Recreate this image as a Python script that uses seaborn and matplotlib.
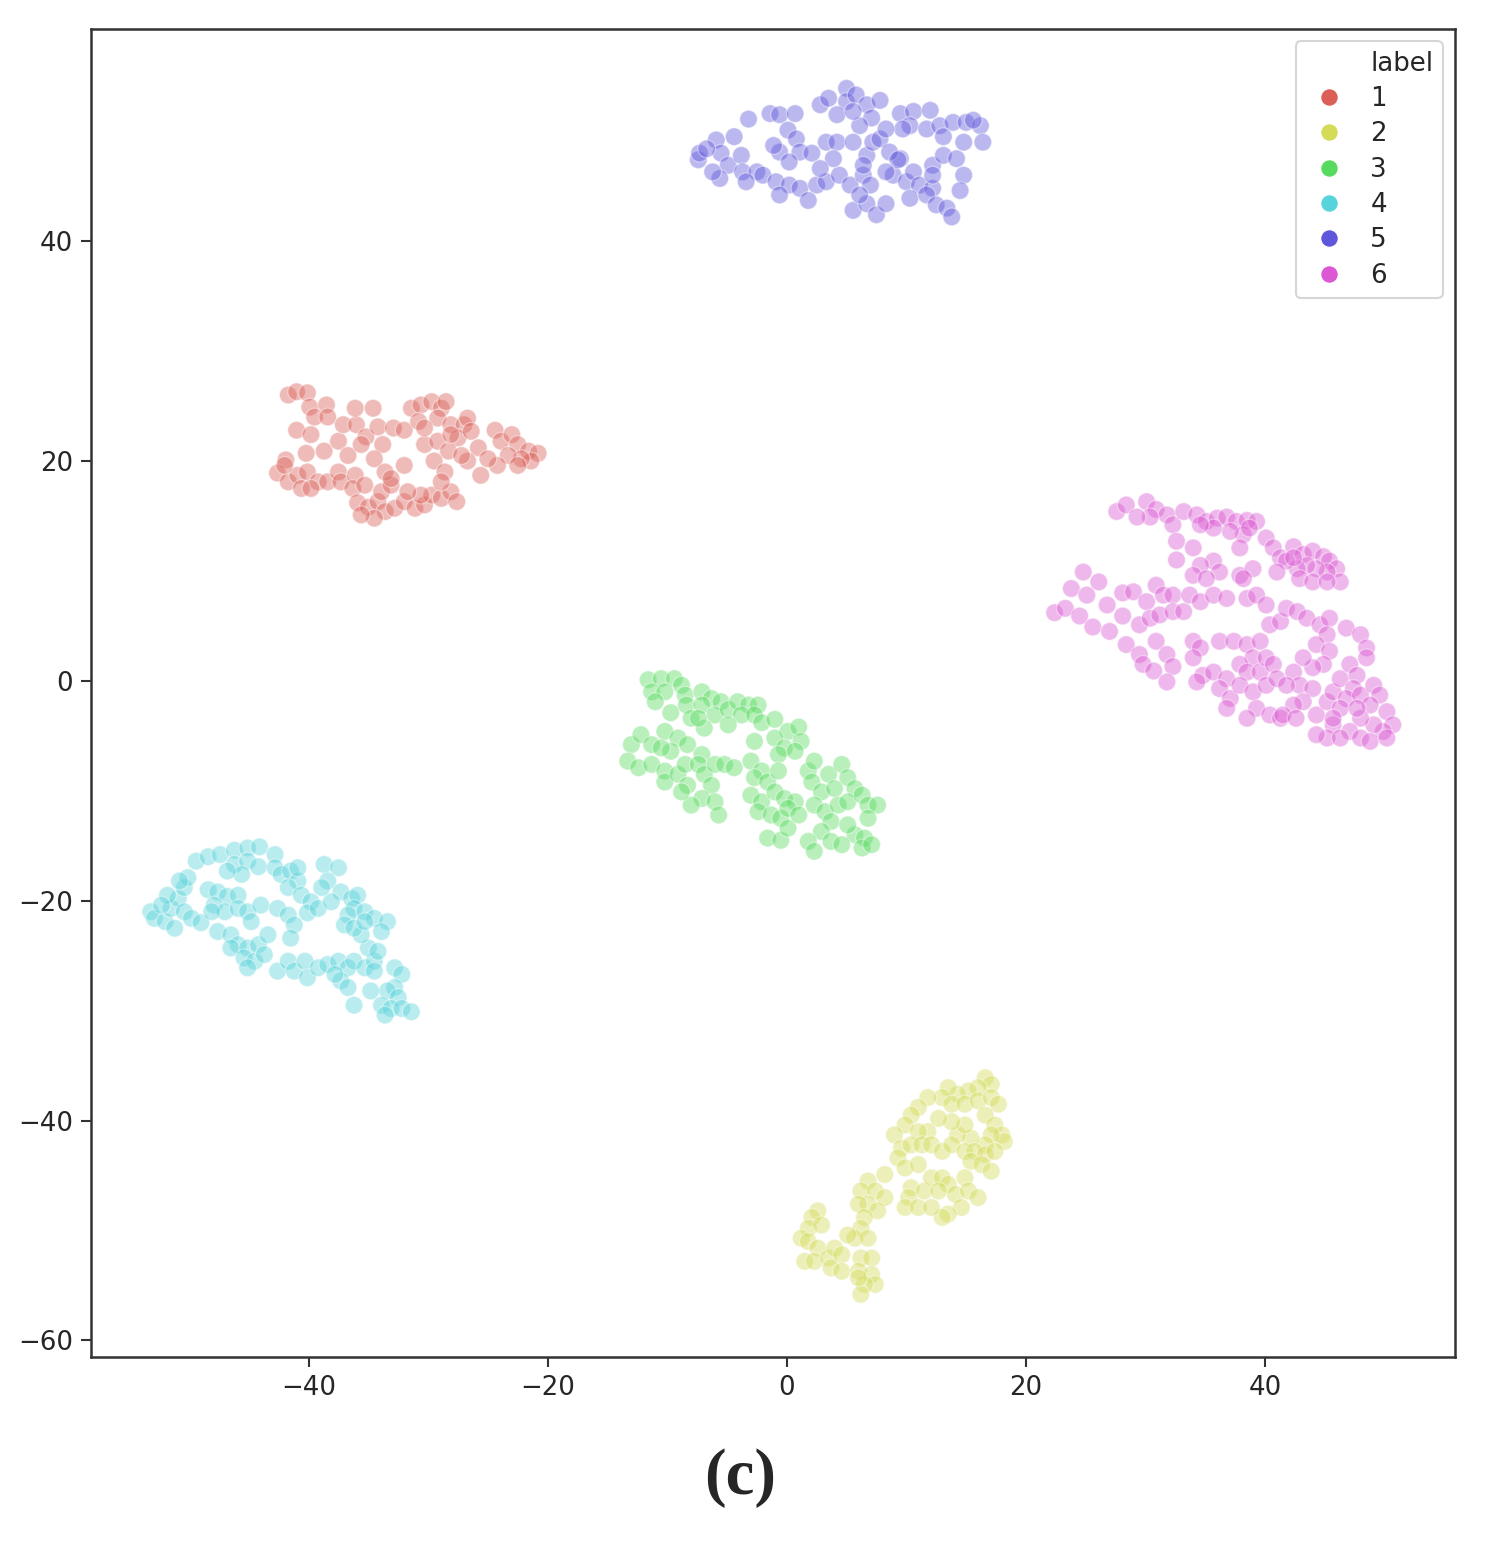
import pandas as pd
import matplotlib
matplotlib.use("Agg")
import matplotlib.pyplot as plt
from matplotlib.lines import Line2D
import seaborn as sns

# t-SNE embedding, values (one list pair per label)
x1 = [-41.7, -41.0, -40.1, -39.9, -38.5, -39.5, -38.4, -41.0, -39.8, -40.2, -38.7, -41.9, -37.5, -37.1,
      -36.0, -36.1, -34.6, -35.2, -34.2, -33.8, -36.7, -35.6, -34.5, -42.6, -41.7, -40.9, -40.1, -39.2,
      -40.6, -39.8, -38.4, -42.0, -37.5, -37.3, -36.1, -36.3, -35.3, -35.9, -35.0, -34.2, -33.6, -32.8,
      -32.0, -31.1, -30.3, -29.7, -28.9, -28.1, -27.6, -34.5, -35.6, -30.6, -31.7, -33.9, -33.1, -32.0,
      -33.6, -33.1, -32.9, -32.0, -31.4, -30.6, -29.7, -28.9, -28.5, -29.2, -28.1, -27.0, -26.7, -27.5,
      -30.3, -29.2, -30.8, -28.3, -29.5, -28.6, -28.9, -28.1, -26.4, -25.8, -26.7, -25.6, -24.4, -23.9,
      -23.0, -22.5, -21.6, -20.8, -21.4, -22.2, -23.3, -24.2, -25.0, -22.5, -27.2, -30.3]
y1 = [26.0, 26.3, 26.2, 24.9, 25.1, 24.0, 24.0, 22.8, 22.4, 20.7, 20.9, 20.1, 21.8, 23.3,
      23.3, 24.8, 24.8, 22.2, 23.1, 21.5, 20.5, 21.5, 20.2, 18.9, 18.1, 18.7, 19.0, 18.1,
      17.5, 17.5, 18.1, 19.6, 19.0, 18.1, 18.7, 17.5, 17.8, 16.2, 15.8, 16.3, 15.4, 15.7,
      16.3, 15.7, 16.0, 16.9, 16.6, 17.2, 16.3, 14.8, 15.1, 16.9, 17.2, 17.2, 17.8, 19.6,
      19.0, 18.4, 23.0, 22.8, 24.8, 25.1, 25.4, 24.8, 25.4, 23.9, 23.3, 23.3, 23.9, 22.1,
      21.5, 21.8, 23.6, 20.9, 20.0, 19.0, 18.1, 22.4, 22.7, 21.2, 20.0, 18.7, 22.8, 21.8,
      22.4, 21.5, 20.9, 20.7, 20.0, 20.2, 20.5, 19.6, 20.2, 19.6, 20.5, 23.0]

x2 = [16.6, 17.1, 16.0, 15.2, 14.3, 13.5, 13.0, 11.8, 13.8, 14.9, 16.0, 17.1, 17.7, 16.6, 17.4, 18.0,
      18.2, 17.1, 16.6, 15.4, 14.3, 14.9, 13.8, 12.7, 11.8, 11.0, 10.4, 9.9, 11.0, 9.0, 9.6, 10.4,
      11.3, 12.1, 13.0, 13.8, 14.9, 15.7, 16.6, 17.4, 15.4, 16.3, 17.1, 9.3, 9.9, 11.0, 10.4, 10.2,
      9.9, 11.0, 11.5, 12.1, 13.0, 13.5, 12.7, 14.1, 14.9, 15.2, 16.0, 14.6, 13.5, 13.0, 12.1, 8.2,
      6.8, 6.2, 7.4, 8.2, 6.8, 6.0, 7.6, 6.5, 6.2, 5.7, 6.8, 5.1, 2.6, 2.1, 1.8, 2.9, 1.2, 1.8,
      2.6, 1.5, 2.3, 3.5, 4.0, 4.6, 3.7, 4.6, 6.2, 7.1, 6.0, 7.1, 7.4, 6.5, 6.2, 6.0]
y2 = [-36.1, -36.7, -37.0, -37.3, -37.6, -37.0, -37.9, -37.9, -38.5, -38.5, -38.2, -37.9, -38.5, -39.5,
      -40.4, -41.3, -41.9, -41.3, -42.2, -41.6, -41.3, -40.4, -40.1, -39.8, -41.0, -38.8, -39.5, -40.4,
      -41.0, -41.3, -42.5, -42.2, -42.2, -42.2, -42.8, -42.2, -42.8, -42.8, -43.1, -42.8, -43.7, -44.0,
      -44.6, -43.4, -44.3, -44.0, -46.1, -47.0, -47.9, -47.9, -46.4, -45.2, -45.2, -45.8, -46.4, -46.7,
      -45.2, -46.4, -47.0, -47.9, -48.5, -48.8, -47.9, -44.9, -45.5, -46.4, -46.4, -47.0, -47.6, -47.6,
      -48.2, -48.8, -49.8, -50.7, -50.7, -50.4, -48.2, -48.8, -49.8, -49.5, -50.7, -51.0, -51.6, -52.8,
      -52.8, -52.5, -51.6, -52.2, -53.4, -53.7, -52.5, -52.5, -53.7, -54.0, -54.9, -54.9, -55.8, -54.3]

x3 = [-11.6, -10.5, -9.4, -8.8, -11.3, -10.2, -8.5, -11.0, -9.7, -8.4, -8.0, -7.1, -6.3, -5.5, -7.1,
      -6.0, -4.9, -4.1, -3.2, -2.4, -3.8, -2.7, -2.1, -1.0, -4.9, -6.9, -7.4, 0.1, 1.0, 1.2, -1.0, -2.7,
      -0.2, -0.7, 0.7, -13.0, -12.2, -11.3, -10.2, -9.1, -8.3, -9.7, -10.5, -7.1, -13.3, -12.4, -11.3,
      -10.2, -10.2, -9.1, -8.5, -7.4, -8.3, -6.9, -6.0, -5.2, -4.4, -6.3, -7.1, -6.0, -5.7, -8.0, -8.8,
      -3.0, -2.1, -2.7, -1.6, -0.7, -3.0, -2.1, -1.0, -0.2, 0.7, -2.4, -1.3, -0.5, 0.1, -1.6, -0.5, 0.1,
      1.0, 1.8, 2.3, 2.1, 2.9, 3.5, 4.6, 5.1, 5.7, 4.0, 2.3, 3.2, 4.3, 5.1, 6.3, 6.8, 7.6, 6.8, 3.7,
      2.9, 1.8, 2.3, 3.7, 5.7, 6.5, 6.3, 7.1, 4.6, 5.1]
y3 = [0.1, 0.2, 0.2, -0.4, -1.0, -1.0, -1.3, -1.9, -2.9, -2.2, -3.4, -1.0, -1.6, -1.9, -2.2,
      -3.1, -2.6, -1.9, -2.2, -2.2, -3.1, -3.1, -3.8, -3.5, -4.0, -4.3, -3.4, -4.6, -4.2, -5.5, -5.2, -5.5,
      -6.1, -6.7, -6.4, -5.8, -4.9, -5.8, -4.6, -5.2, -5.8, -6.4, -6.1, -6.7, -7.3, -7.9, -7.6,
      -8.2, -9.2, -8.5, -7.6, -7.6, -9.5, -8.5, -7.6, -7.6, -7.9, -9.5, -10.7, -11.0, -12.2, -11.3, -10.1,
      -7.3, -8.2, -8.8, -9.2, -8.2, -10.4, -11.0, -10.1, -10.7, -11.0, -11.9, -12.2, -12.5, -11.6, -14.3,
      -14.5, -13.4, -12.2, -8.2, -7.3, -9.2, -10.1, -8.5, -7.6, -8.8, -9.8, -9.8, -11.3, -11.9, -11.3,
      -11.0, -10.4, -11.3, -11.3, -12.5, -12.8, -13.7, -14.6, -15.5, -14.6, -14.0, -14.3, -15.2, -14.9,
      -14.9, -13.1]

x4 = [-53.2, -52.9, -52.0, -51.2, -51.5, -50.9, -50.4, -51.8, -52.3, -50.4, -49.8, -49.0, -50.1, -50.8,
      -49.4, -48.4, -47.4, -46.2, -45.1, -44.1, -46.2, -45.1, -45.6, -44.2, -46.8, -48.4, -47.6, -46.8,
      -45.9, -47.9, -47.0, -45.9, -45.1, -48.1, -44.8, -47.6, -46.5, -45.9, -46.5, -45.1, -44.2, -45.4,
      -44.5, -43.7, -44.0, -43.4, -45.1, -42.8, -42.8, -42.3, -41.5, -40.9, -41.7, -40.6, -39.8, -40.1,
      -39.2, -38.7, -37.5, -38.4, -37.3, -36.4, -35.9, -36.2, -36.7, -35.3, -38.1, -38.9, -40.9, -42.6,
      -41.7, -41.2, -41.5, -42.6, -41.7, -41.2, -40.3, -40.1, -39.2, -38.4, -37.5, -36.7, -37.3, -36.7,
      -36.2, -35.3, -34.5, -35.0, -34.2, -35.6, -34.5, -37.8, -37.0, -36.2, -34.5, -33.4, -33.9, -35.3,
      -32.8, -32.2, -32.8, -33.4, -32.5, -33.9, -33.1, -32.2, -31.4, -33.6, -36.2, -34.8]
y4 = [-21.0, -21.6, -21.9, -22.5, -20.7, -19.8, -18.8, -19.5, -20.4, -21.0, -21.6, -22.0, -17.9, -18.2,
      -16.4, -16.0, -15.8, -15.4, -15.2, -15.1, -16.7, -16.4, -17.6, -16.9, -17.3, -19.0, -19.2, -19.6,
      -19.5, -20.4, -21.0, -20.7, -21.0, -21.0, -21.9, -22.8, -23.1, -24.0, -24.3, -24.3, -24.0, -25.2,
      -25.5, -24.9, -20.4, -23.1, -26.1, -15.8, -17.0, -17.6, -17.3, -18.2, -18.8, -19.5, -20.1, -21.1,
      -20.7, -16.7, -17.0, -18.2, -19.2, -19.8, -19.5, -20.7, -21.3, -21.0, -20.1, -18.8, -17.0, -20.7,
      -21.3, -22.2, -23.4, -26.4, -25.5, -26.4, -25.5, -27.0, -26.1, -25.8, -25.5, -26.1, -27.3, -27.9,
      -25.5, -26.1, -25.5, -24.3, -24.6, -23.1, -26.4, -26.7, -22.2, -22.5, -21.6, -21.9, -22.8, -21.9,
      -26.1, -26.7, -27.9, -28.2, -28.8, -29.5, -29.8, -29.8, -30.1, -30.4, -29.5, -28.2]

x5 = [-7.4, -7.3, -5.9, -5.5, -4.9, -5.6, -4.4, -3.8, -3.7, -3.2, -2.5, -3.4, -6.2, -6.7,
      -1.4, -0.6, 0.7, 0.1, 0.8, -0.6, 1.1, 2.1, -1.1, 0.2, 2.8, 3.5, 5.0, 5.0, 5.8, 6.7, 7.8, 7.1,
      6.1, 4.2, 5.55, -2.0, -0.9, 0.2, 1.1, 2.5, 3.3, 4.4, 5.3, 6.4, 7.0, -0.6, 1.8, 3.3, 4.2, 3.9,
      5.55, 6.7, 7.2, 7.8, 6.4, 2.8, 5.55, 6.7, 7.5, 8.3, 6.1, 9.5, 10.6, 12.0, 10.3, 11.7, 12.8,
      13.9, 15.0, 16.2, 14.8, 13.1, 16.4, 15.6, 9.7, 9.5, 8.9, 10.0, 10.6, 12.2, 13.1, 14.2, 14.8,
      11.1, 12.2, 14.5, 12.2, 10.3, 11.7, 12.5, 13.4, 13.8, 8.6, 9.3, 8.3, 8.3]
y5 = [47.4, 48.0, 49.2, 48.0, 46.9, 45.7, 49.5, 47.8, 46.3, 51.1, 46.3, 45.4, 46.3, 48.4,
      51.6, 51.5, 51.6, 50.1, 49.3, 48.1, 48.1, 48.0, 48.7, 47.2, 52.4, 53.0, 53.9, 52.7, 53.3, 52.4,
      52.8, 51.2, 50.5, 51.5, 51.8, 46.0, 45.4, 45.1, 44.8, 45.1, 45.4, 46.0, 45.1, 46.0, 45.1, 44.2,
      43.7, 49.0, 49.0, 47.5, 49.0, 47.8, 49.0, 49.3, 46.9, 46.6, 42.8, 43.4, 42.4, 43.4, 44.2, 51.6,
      51.8, 51.9, 50.5, 50.2, 50.5, 50.8, 50.8, 50.5, 49.0, 49.5, 49.0, 51.0, 50.2, 47.5, 46.0, 45.4,
      46.3, 46.9, 47.8, 47.5, 46.0, 45.1, 44.8, 44.6, 46.0, 43.9, 44.2, 43.3, 43.0, 42.2, 48.1, 47.4,
      50.2, 46.3]

x6 = [27.6, 28.4, 30.1, 30.9, 31.8, 32.3, 30.4, 29.3, 33.2, 34.3, 35.1, 36.0, 36.8, 37.6, 38.5, 39.3,
      38.2, 37.1, 35.7, 34.6, 38.7, 40.1, 40.7, 41.3, 42.4, 43.2, 44.0, 44.9, 45.4, 46.0, 46.3, 45.2,
      44.3, 43.5, 42.7, 41.8, 41.0, 42.9, 44.0, 45.2, 42.4, 32.6, 34.0, 32.6, 35.7, 36.2, 34.6, 34.0,
      35.1, 37.9, 39.0, 38.2, 37.9, 22.4, 23.3, 24.5, 23.8, 24.8, 26.1, 25.1, 26.8, 28.1, 29.0, 25.6,
      27.0, 28.1, 28.4, 29.5, 30.1, 30.9, 31.5, 32.3, 30.4, 31.2, 32.3, 33.2, 29.5, 29.8, 30.9, 31.8,
      32.3, 30.7, 31.8, 33.7, 34.6, 35.7, 36.8, 38.5, 39.3, 40.1, 34.0, 34.6, 34.0, 34.8, 34.3, 35.7,
      36.2, 37.4, 38.5, 39.6, 40.4, 41.3, 39.0, 37.9, 38.5, 39.6, 40.1, 40.7, 36.8, 36.2, 37.1, 36.8,
      37.9, 39.0, 40.1, 41.0, 39.3, 38.5, 40.4, 41.3, 41.8, 42.7, 43.5, 44.6, 45.4, 45.2, 44.3, 45.4,
      44.9, 44.0, 43.2, 42.4, 42.9, 41.8, 44.0, 43.2, 42.4, 41.5, 42.6, 44.3, 45.2, 45.7, 46.3, 47.1,
      46.8, 48.0, 48.5, 48.5, 47.7, 47.4, 46.8, 46.3, 48.0, 49.1, 49.6, 48.8, 50.2, 50.7, 49.9, 49.1,
      48.0, 47.1, 45.7, 45.2, 44.3, 46.3, 48.0, 48.8, 50.2, 47.7, 45.7]
y6 = [15.4, 16.0, 16.3, 15.6, 15.1, 14.2, 14.9, 14.9, 15.4, 15.1, 14.5, 14.8, 14.9, 14.5, 14.6, 14.5,
      13.3, 13.6, 13.9, 14.2, 13.9, 13.0, 12.1, 11.2, 12.2, 11.5, 11.8, 11.3, 10.9, 10.2, 9.0, 9.9,
      10.2, 10.5, 10.2, 10.9, 9.9, 9.3, 9.0, 9.0, 11.2, 12.7, 12.1, 11.0, 10.9, 9.9, 10.5, 9.6,
      9.3, 9.6, 10.2, 9.3, 12.1, 6.2, 6.6, 5.9, 8.4, 9.9, 9.0, 7.8, 6.9, 8.0, 8.1, 4.9,
      4.5, 5.9, 3.3, 5.1, 7.2, 8.7, 7.8, 7.8, 5.7, 6.0, 6.3, 6.3, 2.4, 1.5, 3.6, 2.4,
      1.3, 0.9, -0.1, 7.8, 7.2, 7.8, 7.5, 7.5, 7.8, 6.9, 3.6, 3.0, 2.1, 0.5, -0.1, 0.8,
      3.6, 3.6, 3.3, 3.6, 5.1, 5.4, 2.1, 1.5, 0.8, 0.8, 2.1, 1.5, 0.2, -0.7, -1.6, -2.5,
      -0.4, -1.0, -0.4, 0.2, -2.5, -3.4, -3.1, -3.4, 6.6, 6.3, 5.7, 5.1, 5.7, 4.2, 3.3, 2.7,
      1.5, 1.2, 2.1, 0.8, -0.4, -0.4, -0.7, -1.9, -2.2, -3.1, -3.4, -3.1, -1.9, -1.0, 0.2, 1.5,
      4.8, 4.2, 3.0, 2.1, 0.5, -0.7, -1.6, -2.5, -1.3, -0.4, -1.3, -2.2, -2.8, -4.0, -4.6, -4.0,
      -3.4, -4.6, -4.0, -5.2, -4.9, -5.2, -5.2, -5.5, -5.2, -2.5, -3.4]

xs = [x1, x2, x3, x4, x5, x6]
ys = [y1, y2, y3, y4, y5, y6]
labels = [1, 2, 3, 4, 5, 6]

df = pd.concat([pd.DataFrame({"x": x, "y": y, "label": lab})
                for x, y, lab in zip(xs, ys, labels)], ignore_index=True)

sns.set_style("ticks")
plt.rcParams["font.family"] = ["DejaVu Sans"]

fig = plt.figure(figsize=(1487 / 150, 1548 / 150), dpi=150)
ax = fig.add_axes([0.0612, 0.1234, 0.9173, 0.8579])

sns.scatterplot(data=df, x="x", y="y", hue="label", palette=sns.color_palette("hls", 6),
                s=72, alpha=0.42, edgecolor="white", linewidth=0.6, ax=ax, legend="full")

ax.set_xlim(-58.2, 55.9)
ax.set_ylim(-61.5, 59.3)
ax.set_xticks([-40, -20, 0, 20, 40])
ax.set_yticks([-60, -40, -20, 0, 20, 40])
ax.set_xlabel("")
ax.set_ylabel("")
ax.tick_params(labelsize=12.5, length=5, width=1, color="#333333")
for sp in ax.spines.values():
    sp.set_color("#333333")
    sp.set_linewidth(1.2)

# old-style seaborn legend: the "label" title sits in the label column
handles, texts = ax.get_legend_handles_labels()
for h in handles:
    h.set_alpha(1)
blank = Line2D([], [], linestyle="none", marker=None)
leg = ax.legend([blank] + handles, ["label"] + texts, loc="upper right", fontsize=12.5,
                frameon=True, borderpad=0.35, labelspacing=0.36, handletextpad=0.7,
                handlelength=1.8, borderaxespad=0.48)

fig.text(0.498, 0.045, "(c)", ha="center", va="center", fontsize=31, fontweight="bold",
         family=["Liberation Serif", "DejaVu Serif"])

fig.savefig("out.png", dpi=150)
